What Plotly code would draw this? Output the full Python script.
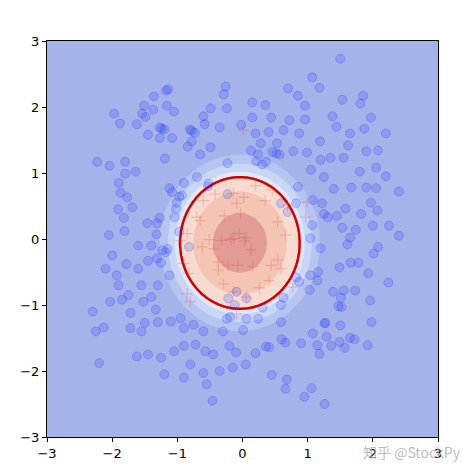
import numpy as np
import plotly.graph_objects as go

# ---- data ----
blue_pts = [
    (-1.97, 1.90), (-1.51, 2.02), (-1.54, 1.90), (-1.49, 1.85), (-1.36, 2.16), (-1.37, 1.96),
    (-1.17, 2.25), (-1.14, 2.27), (-1.16, 2.02), (-1.05, 1.93), (-0.60, 1.86), (-0.49, 1.98),
    (-0.29, 2.19), (-0.26, 2.31), (-0.24, 1.98), (0.15, 2.07), (0.15, 1.84), (0.35, 2.03),
    (0.44, 1.84), (0.70, 2.28), (0.85, 2.17), (0.96, 2.02), (0.96, 1.81), (1.07, 2.45),
    (1.18, 2.29), (1.50, 2.73), (1.53, 2.11), (1.81, 2.05), (1.85, 2.17), (1.97, 1.84),
    (1.38, 1.86), (0.72, 1.80),
    (-1.88, 1.75), (-1.62, 1.74), (-1.45, 1.58), (-1.27, 1.69), (-1.24, 1.67), (-1.20, 1.66),
    (-1.27, 1.53), (-1.08, 1.53), (-0.81, 1.66), (-0.78, 1.64), (-0.73, 1.61), (-0.78, 1.48),
    (-0.84, 1.40), (-0.58, 1.74), (-0.35, 1.69), (-0.02, 1.73), (-0.49, 1.39), (-0.65, 1.28),
    (-1.19, 1.22), (-2.23, 1.17), (-2.04, 1.11), (-1.80, 1.17), (-1.80, 0.99), (-1.64, 1.02),
    (-1.90, 0.85), (-1.87, 0.70), (-1.77, 0.63), (-1.91, 0.45), (-1.69, 0.48), (-1.82, 0.32),
    (-1.81, 0.12), (-2.05, 0.06), (-1.46, 0.24), (-1.31, 0.24), (-1.27, 0.32), (-1.32, 0.07),
    (-1.12, 0.77), (-1.08, 0.71), (-0.90, 0.85), (-0.70, 0.94), (-0.97, 0.64), (-1.01, 0.55),
    (-1.02, 0.46), (-0.93, 0.66), (-1.04, 0.33), (-0.53, 0.80), (-0.23, 0.68), (-0.23, 1.15),
    (-0.52, 0.84),
    (0.13, 1.34), (0.24, 1.28), (0.21, 1.18), (0.30, 1.13), (0.36, 1.17), (0.46, 1.32),
    (0.52, 1.30), (0.57, 1.28),
    (0.59, 0.54), (0.69, 0.41), (1.22, 0.54), (1.25, 0.38), (1.31, 0.33), (1.07, 0.21),
    (1.04, 0.01), (0.82, 0.54),
    (0.20, 1.60), (0.40, 1.62), (0.63, 1.65), (0.87, 1.60), (0.53, 1.45), (0.28, 1.45),
    (0.78, 1.33), (0.99, 1.31), (1.19, 1.48), (1.44, 1.70), (1.65, 1.60), (1.87, 1.67),
    (2.20, 1.60), (1.62, 1.42), (1.90, 1.33), (2.08, 1.34), (1.20, 1.20), (1.35, 1.23),
    (1.55, 1.23), (1.80, 1.02), (2.05, 1.08), (2.20, 0.95), (2.05, 0.77), (1.90, 0.78),
    (1.67, 0.78), (1.40, 0.76), (1.25, 0.94), (1.05, 1.05), (0.85, 0.79), (1.08, 0.59),
    (1.58, 0.46), (1.97, 0.55), (2.07, 0.43), (1.82, 0.38), (1.45, 0.35), (1.53, 0.17),
    (1.74, 0.14), (2.00, 0.20), (2.25, 0.20), (1.65, 0.02), (2.40, 0.72), (2.40, 0.05),
    (1.61, -0.08), (2.08, -0.12), (2.01, -0.22), (1.20, -0.14), (1.49, -0.43), (1.66, -0.36),
    (1.78, -0.36), (1.93, -0.52), (2.24, -0.66), (1.04, -0.55), (1.16, -0.50), (1.15, -0.63),
    (1.03, -0.77), (1.39, -0.80), (1.55, -0.78), (1.73, -0.78), (1.51, -0.89), (1.47, -1.02),
    (1.52, -1.03), (1.96, -0.93), (1.98, -1.26), (1.26, -1.28), (1.27, -1.27), (1.50, -1.31),
    (1.08, -1.43), (1.29, -1.48), (1.65, -1.50), (1.72, -1.52), (1.49, -1.56), (1.15, -1.61),
    (1.36, -1.62), (1.57, -1.65), (1.18, -1.74), (1.92, -1.61), (0.60, -1.52), (0.66, -1.57),
    (0.36, -1.63), (0.41, -1.64), (0.20, -1.73), (0.90, -1.58), (0.59, -1.26), (0.06, -1.21),
    (0.24, -1.21), (0.31, -1.04), (0.59, -1.00), (0.63, -0.89), (0.82, -0.58), (0.87, -0.65),
    (0.45, -2.06), (0.68, -2.13), (0.66, -2.27), (1.06, -2.26), (0.95, -2.39), (1.26, -2.50),
    (0.01, -1.38), (-0.46, -2.45),
    (-0.97, 0.11), (-1.23, -0.17), (-1.18, -0.20), (-0.82, -0.12), (-1.31, -0.29),
    (-0.09, -0.80), (-0.22, -0.90), (0.06, -0.90), (-0.12, -1.00), (-0.24, -1.21), (-0.19, -1.18),
    (-2.25, -1.40), (-2.13, -1.34), (-2.20, -1.88), (-2.03, -0.95), (-1.85, -0.92), (-1.75, -0.85),
    (-1.52, -0.95), (-1.40, -0.88), (-1.72, -1.12), (-1.50, -1.27), (-1.33, -1.07), (-1.72, -1.35),
    (-1.55, -1.40), (-1.30, -1.26), (-1.10, -1.25), (-0.95, -1.20), (-1.62, -1.78), (-1.45, -1.75),
    (-1.25, -1.80), (-1.05, -1.70), (-0.90, -1.62), (-0.72, -1.60), (-0.57, -1.70), (-0.45, -1.75),
    (-0.80, -1.90), (-0.60, -2.03), (-0.90, -2.10), (-1.20, -2.05), (-0.55, -2.20), (-2.10, -0.45),
    (-1.93, -0.55), (-1.78, -0.38), (-1.60, -0.45), (-1.45, -0.33), (-1.25, -0.36), (-1.12, -0.55),
    (-1.30, -0.70), (-1.55, -0.70), (-1.90, -0.70), (-1.15, -0.15), (-1.40, -0.10), (-1.60, -0.10),
    (-2.00, -0.25), (-0.90, -1.35), (-0.75, -1.30), (-0.60, -1.40), (-0.30, -1.40), (-0.20, -1.62),
    (-0.10, -1.72), (-0.35, -2.00), (-0.15, -1.95), (0.05, -1.90), (-2.30, -1.10),
]
blue_x = [p[0] for p in blue_pts]
blue_y = [p[1] for p in blue_pts]

red_pts = [
    (-0.09, 0.54), (0.02, 0.63), (0.35, 0.58), (-0.42, 0.68), (-0.28, 0.35), (-0.03, 0.39),
    (-0.65, 0.28), (0.54, 0.26), (0.66, 0.06), (-0.62, -0.12), (-0.51, -0.01), (-0.32, -0.02),
    (-0.18, -0.01), (-0.14, 0.01), (-0.05, 0.08), (0.05, 0.02), (0.03, -0.03), (0.13, -0.16),
    (-0.44, -0.15), (0.54, -0.32), (0.44, -0.40), (0.59, -0.45), (0.16, -0.42), (-0.07, -0.40),
    (-0.22, -0.40), (-0.37, -0.35), (-0.37, -0.47), (-0.29, -0.68), (-0.14, -0.80), (0.06, -0.88),
    (0.26, -0.74), (0.41, -0.63), (-0.85, 0.08), (-0.90, -0.37), (-0.82, -0.52), (-0.85, -0.83),
    (-0.80, -0.95), (-0.09, -1.13), (0.77, -0.73), (0.97, 0.33), (0.99, 0.56), (-0.95, -0.02),
    (-0.70, 0.33), (-0.14, 0.69), (0.01, 1.65), (0.20, 0.81), (0.46, 0.74), (0.69, 0.51),
    (-0.60, 0.58),
]
red_x = [p[0] for p in red_pts]
red_y = [p[1] for p in red_pts]

tick_vals = [-3, -2, -1, 0, 1, 2, 3]

# decision-surface description (elliptic bands around the inner class)
center_x, center_y = -0.04, -0.06
semi_x, semi_y = 0.92, 1.0
band_levels = [0.0, 0.45, 0.78, 1.0, 1.08, 1.2, 1.33, 10.0]
band_colors = ['#e09c95', '#f4c5b3', '#f7dbd0', '#e0e7f7', '#c9d6f6', '#b6c4f0', '#a5b3ea']

grid = np.linspace(-3, 3, 401)
GX, GY = np.meshgrid(grid, grid)
R = np.sqrt(((GX - center_x) / semi_x) ** 2 + ((GY - center_y) / semi_y) ** 2)
Z = np.interp(R, band_levels, np.arange(len(band_levels)))

n = len(band_colors) - 1
cscale = []
for k, c in enumerate(band_colors):
    lo = max(0.0, (k - 0.5) / n)
    hi = min(1.0, (k + 0.5) / n)
    cscale.append([lo, c])
    cscale.append([hi, c])

fig = go.Figure()
fig.add_trace(go.Contour(
    x=grid, y=grid, z=Z, colorscale=cscale, showscale=False,
    contours=dict(start=1, end=6, size=1, coloring='fill'),
    line=dict(width=0), hoverinfo='skip'))
fig.add_trace(go.Contour(
    x=grid, y=grid, z=Z, showscale=False,
    contours=dict(start=3, end=3, size=1, coloring='none'),
    line=dict(color='#cc0000', width=2.5), hoverinfo='skip'))
fig.add_trace(go.Scatter(
    x=blue_x, y=blue_y, mode='markers',
    marker=dict(symbol='circle', size=9, color='rgba(20,40,255,0.17)',
                line=dict(color='rgba(20,40,255,0.22)', width=1))))
fig.add_trace(go.Scatter(
    x=red_x, y=red_y, mode='markers',
    marker=dict(symbol='cross-thin', size=8, color='rgba(225,50,50,0.22)',
                line=dict(color='rgba(225,50,50,0.22)', width=1.2))))

axis = dict(range=[-3, 3], tickvals=tick_vals, ticks='outside', ticklen=4,
            tickcolor='black', showline=True, linecolor='black', linewidth=1,
            mirror=True, showgrid=False, zeroline=False,
            tickfont=dict(family='DejaVu Sans', size=13, color='black'))
fig.update_layout(
    width=466, height=466,
    margin=dict(l=33, r=36, t=33, b=37),
    paper_bgcolor='white', plot_bgcolor='white',
    showlegend=False,
    xaxis=axis, yaxis=axis,
    annotations=[dict(text='知乎 @StockPy', xref='paper', yref='paper',
                      x=1.065, y=-0.037, xanchor='right', yanchor='middle',
                      showarrow=False,
                      font=dict(family='Noto Sans CJK SC', size=14, color='rgba(175,175,175,0.85)'))])
fig.write_html('out.html', config={'displayModeBar': False})
